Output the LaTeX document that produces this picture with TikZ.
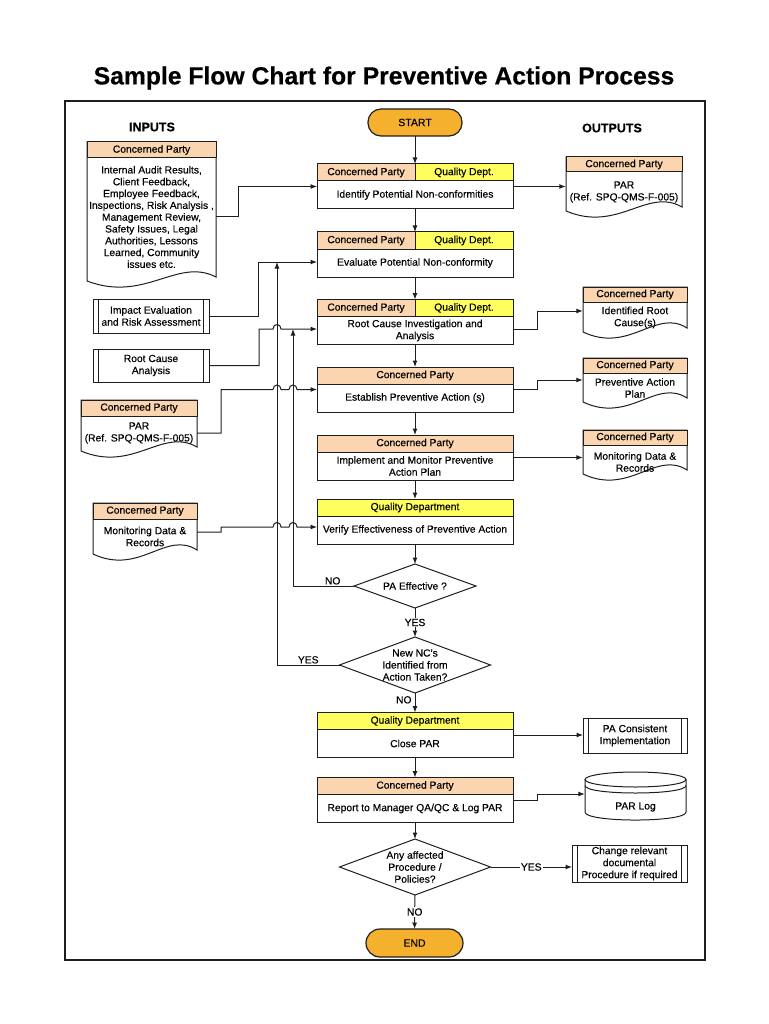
\documentclass[tikz,border=0pt]{standalone}
\usepackage{fontspec}
\setmainfont{Liberation Sans}[UprightFeatures={FakeBold=0.3}, BoldFeatures={FakeBold=0.5}]
\usetikzlibrary{arrows.meta,shapes.geometric,calc}
\definecolor{peach}{RGB}{250,213,175}
\definecolor{qyel}{RGB}{255,255,95}
\definecolor{pillc}{RGB}{245,176,45}
\definecolor{ink}{RGB}{30,30,30}
\newcommand\mydocshape[4]{\draw[ln, fill=white] (#1,#2) -- (#3,#2) -- (#3,#4) .. controls ({#3-0.3*(#3-#1)},{#4-20}) and ({#1+0.45*(#3-#1)},{#4+26}) .. (#1,{#4+4}) -- cycle;}
\tikzset{
  ln/.style={draw=ink, line width=1pt},
  arr/.style={ln, -{Latex[length=6.5pt,width=5pt]}},
  bx/.style={draw=ink, line width=1pt, inner sep=0pt, outer sep=0pt},
  stepbox/.style={bx, fill=white, minimum width=196pt, minimum height=45pt},
  hdrP/.style={bx, fill=peach, minimum height=17pt, font=\fontsize{10.3}{12}\selectfont},
  hdrY/.style={hdrP, fill=qyel},
  txt/.style={align=center, inner sep=0pt, font=\fontsize{10.3}{12}\selectfont},
  lbl/.style={inner sep=1pt, font=\fontsize{10.3}{12}\selectfont},
  pillbox/.style={bx, fill=pillc, line width=1.2pt, rounded corners=13pt, minimum width=94pt, minimum height=27pt, font=\fontsize{10.5}{12}\selectfont},
  dia/.style={diamond, bx, fill=white},
  dblbox/.style={bx, fill=white, align=center, font=\fontsize{10.3}{12}\selectfont,
    path picture={\draw[ln] ([xshift=5.5pt]path picture bounding box.north west) -- ([xshift=5.5pt]path picture bounding box.south west);
                  \draw[ln] ([xshift=-5.5pt]path picture bounding box.north east) -- ([xshift=-5.5pt]path picture bounding box.south east);}},
  headtitle/.style={inner sep=0pt, font=\bfseries\fontsize{12.5}{15}\selectfont},
}
\newcommand\stepsplit[3]{%
  \node[stepbox] (#1) at (415,#2) {};
  \node[hdrP, minimum width=98pt, anchor=north west] (#1h) at (#1.north west) {Concerned Party};
  \node[hdrY, minimum width=98pt, anchor=north east] (#1q) at (#1.north east) {Quality Dept.};
  \node[txt] (#1t) at ($(#1h.south -| #1)!0.5!(#1.south)$) {#3};}
\newcommand\stepone[5]{%
  \node[stepbox] (#1) at (415,#2) {};
  \node[#3, minimum width=196pt, anchor=north] (#1h) at (#1.north) {#4};
  \node[txt] (#1t) at ($(#1h.south -| #1)!0.5!(#1.south)$) {#5};}
\begin{document}
\begin{tikzpicture}[x=1pt,y=-1pt]
\useasboundingbox (0,0) rectangle (768,1024);
\node[inner sep=0pt, font=\bfseries\fontsize{24.7}{30}\selectfont] (title) at (384,78) {Sample Flow Chart for Preventive Action Process};
\draw[draw=ink, line width=2.4pt] (65,101) rectangle (705,960);
\node[headtitle] (inputs) at (152,127) {INPUTS};
\node[headtitle] (outputs) at (612,128) {OUTPUTS};

% main column
\node[pillbox] (start) at (415,122.5) {START};
\stepsplit{s1}{186.5}{Identify Potential Non-conformities}
\stepsplit{s2}{254.5}{Evaluate Potential Non-conformity}
\stepsplit{s3}{322}{Root Cause Investigation and\\Analysis}
\stepone{s4}{389.5}{hdrP}{Concerned Party}{Establish Preventive Action (s)}
\stepone{s5}{457.5}{hdrP}{Concerned Party}{Implement and Monitor Preventive\\Action Plan}
\stepone{s6}{521.5}{hdrY}{Quality Department}{Verify Effectiveness of Preventive Action}
\node[dia, minimum width=122pt, minimum height=44pt] (d1) at (415,586) {};
\node[txt] (d1t) at (d1) {PA Effective ?};
\node[dia, minimum width=151pt, minimum height=56pt] (d2) at (415,665) {};
\node[txt] (d2t) at (d2) {New NC's\\Identified from\\Action Taken?};
\stepone{s7}{735}{hdrY}{Quality Department}{Close PAR}
\stepone{s8}{800}{hdrP}{Concerned Party}{Report to Manager QA/QC \& Log PAR}
\node[dia, minimum width=151pt, minimum height=56pt] (d3) at (415,867) {};
\node[txt] (d3t) at (d3) {Any affected\\Procedure /\\Policies?};
\node[pillbox, minimum width=97pt, minimum height=28pt, rounded corners=14pt] (end) at (414.5,943) {END};

% inputs
\mydocshape{87}{142}{216}{277}
\node[hdrP, minimum width=129pt, minimum height=16pt, anchor=north west] (in1h) at (87,142) {Concerned Party};
\node[txt, minimum width=129pt, font=\fontsize{10.3}{11.8}\selectfont] (in1) at (151.5,217) {Internal Audit Results,\\Client Feedback,\\Employee Feedback,\\Inspections, Risk Analysis ,\\Management Review,\\Safety Issues, Legal\\Authorities, Lessons\\Learned, Community\\issues etc.};
\node[dblbox, minimum width=116pt, minimum height=34pt] (imp) at (151,316) {Impact Evaluation\\and Risk Assessment};
\node[dblbox, minimum width=116pt, minimum height=33pt] (rca) at (151,365.5) {Root Cause\\Analysis};
\mydocshape{81}{400}{197}{447}
\node[hdrP, minimum width=116pt, minimum height=16pt, anchor=north west] (in2h) at (81,400) {Concerned Party};
\node[txt, minimum width=116pt] (in2) at (139,433) {PAR\\(Ref. SPQ-QMS-F-005)};
\mydocshape{93}{503}{197}{550}
\node[hdrP, minimum width=104pt, minimum height=16pt, anchor=north west] (in3h) at (93,503) {Concerned Party};
\node[txt, minimum width=104pt] (in3) at (145,536.5) {Monitoring Data \&\\Records};

% outputs
\mydocshape{566}{157}{682}{207}
\node[hdrP, minimum width=116pt, minimum height=15pt, anchor=north west] (o1h) at (566,157) {Concerned Party};
\node[txt, minimum width=116pt] (o1) at (624,192) {PAR\\(Ref. SPQ-QMS-F-005)};
\mydocshape{583}{287}{687}{328}
\node[hdrP, minimum width=104pt, minimum height=15pt, anchor=north west] (o2h) at (583,287) {Concerned Party};
\node[txt, minimum width=104pt] (o2) at (635,317.5) {Identified Root\\Cause(s)};
\mydocshape{583}{358}{687}{398}
\node[hdrP, minimum width=104pt, minimum height=15pt, anchor=north west] (o3h) at (583,358) {Concerned Party};
\node[txt, minimum width=104pt] (o3) at (635,388) {Preventive Action\\Plan};
\mydocshape{583}{430}{687}{470}
\node[hdrP, minimum width=104pt, minimum height=15pt, anchor=north west] (o4h) at (583,430) {Concerned Party};
\node[txt, minimum width=104pt] (o4) at (635,462) {Monitoring Data \&\\Records};
\node[dblbox, minimum width=104pt, minimum height=35pt] (o5) at (635,735.5) {PA Consistent\\Implementation};
% PAR log cylinder
\draw[ln, fill=white] (585,779.5) -- (585,812) .. controls (585,822.7) and (686,822.7) .. (686,812) -- (686,779.5);
\draw[ln, fill=white] (635.5,779.5) ellipse [x radius=50.5pt, y radius=7.5pt];
\draw[ln] (585,785.5) .. controls (585,795.5) and (686,795.5) .. (686,785.5);
\node[txt, minimum width=101pt, minimum height=48pt] (plog) at (635.5,796) {};
\node[txt] (plogt) at (635.5,807) {PAR Log};
\node[dblbox, minimum width=115pt, minimum height=37pt] (chg) at (629.5,863.5) {Change relevant\\documental\\Procedure if required};

\coordinate (noEnd) at (293,329);
\coordinate (yesEnd) at (277,262);

% main flow
\draw[arr] (start) -- (s1);
\draw[arr] (s1) -- (s2);
\draw[arr] (s2) -- (s3);
\draw[arr] (s3) -- (s4);
\draw[arr] (s4) -- (s5);
\draw[arr] (s5) -- (s6);
\draw[arr] (s6) -- (d1);
\draw[arr] (d1) -- node[lbl, fill=white] {YES} (d2);
\draw[arr] (d2) -- node[lbl, left, pos=0.35, xshift=-2pt] {NO} (s7);
\draw[arr] (s7) -- (s8);
\draw[arr] (s8) -- (d3);
\draw[arr] (d3) -- node[lbl, fill=white] {NO} (end);
\draw[arr] (d1.west) -- node[lbl, above, pos=0.35] {NO} (293,586) -- (noEnd);
\draw[arr] (d2.west) -- node[lbl, above, pos=0.5] {YES} (277,665) -- (yesEnd);

% input connectors
\draw[arr] (in1.east) -- ++(22,0) |- (s1.west);
\draw[arr] (imp.east) -- ++(49,0) |- ([yshift=-7.5pt]s2.west);
\draw[arr] (rca.east) -- (259,365.5) -- (259,329) -- (273,329) .. controls (273,323) and (281,323) .. (281,329) -- ([yshift=-7pt]s3.west);
\draw[arr] (in2.east) -| (221,389.5) -- (273,389.5) .. controls (273,383.5) and (281,383.5) .. (281,389.5) -- (289,389.5) .. controls (289,383.5) and (297,383.5) .. (297,389.5) -- (s4.west);
\draw[arr] ([yshift=4.5pt]in3.east) -- (221,532) -- (221,527) -- (273,527) .. controls (273,521) and (281,521) .. (281,527) -- (289,527) .. controls (289,521) and (297,521) .. (297,527) -- ([yshift=-5.5pt]s6.west);

% output connectors
\draw[arr] (s1.east) -- (s1.east -| o1.west);
\draw[arr] ([yshift=-7pt]s3.east) -- (537,329) |- ([yshift=6.5pt]o2.west);
\draw[arr] (s4.east) -- (537,389.5) |- ([yshift=8pt]o3.west);
\draw[arr] (s5.east) -- (s5.east -| o4.west);
\draw[arr] (s7.east) -- (s7.east -| o5.west);
\draw[arr] (s8.east) -- (537,800) |- ([yshift=2pt]plog.west);
\draw[arr] (d3.east) -- node[lbl, fill=white] {YES} (d3.east -| chg.west);
\end{tikzpicture}
\end{document}
